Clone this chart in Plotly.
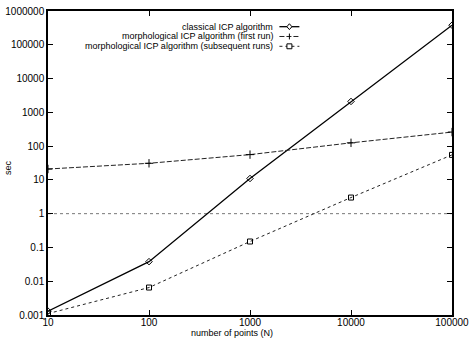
import plotly.graph_objects as go

# Data
n_points = [10, 100, 1000, 10000, 100000]
classical_icp = [0.0013, 0.038, 11, 2100, 380000]
morph_first_run = [21, 31, 56, 125, 260]
morph_subsequent = [0.0011, 0.0065, 0.15, 3.0, 55]
ref_line_x = [10, 100000]
ref_line_y = [1, 1]

series_names = ["classical ICP algorithm",
                "morphological ICP algorithm (first run)",
                "morphological ICP algorithm (subsequent runs)"]

y_tick_vals = [0.001, 0.01, 0.1, 1, 10, 100, 1000, 10000, 100000, 1000000]
y_tick_text = ["0.001", "0.01", "0.1", "1", "10", "100", "1000", "10000", "100000", "1000000"]
x_tick_vals = [10, 100, 1000, 10000, 100000]
x_tick_text = ["10", "100", "1000", "10000", "100000"]

FONT = "Liberation Sans, Arial, sans-serif"
W, H = 474, 341
ML, MR, MT, MB = 48, 21, 5, 26
PW, PH = W - ML - MR, H - MT - MB


def px(x):
    return (x - ML) / PW


def py(y):
    return 1 - (y - MT) / PH


styles = [
    dict(line=dict(color="black", width=1.3), sym="diamond-open", size=5),
    dict(line=dict(color="#222222", width=1, dash="5px,2px"), sym="cross-thin-open", size=6),
    dict(line=dict(color="#222222", width=1, dash="dot"), sym="square-open", size=5),
]
values = [classical_icp, morph_first_run, morph_subsequent]

fig = go.Figure()
fig.add_trace(go.Scatter(
    x=ref_line_x, y=ref_line_y, mode="lines", showlegend=False,
    line=dict(color="#777777", width=1, dash="dot"), hoverinfo="skip"))
for name, vals, st in zip(series_names, values, styles):
    fig.add_trace(go.Scatter(
        x=n_points, y=vals, mode="lines+markers", name=name, showlegend=False,
        line=st["line"],
        marker=dict(symbol=st["sym"], size=st["size"], color="black",
                    line=dict(width=1, color="black"))))

axis_common = dict(
    type="log", showgrid=False, zeroline=False, showline=True, linecolor="black",
    linewidth=1.5, mirror="allticks", ticks="inside", ticklen=5, tickcolor="black",
    tickfont=dict(family=FONT, size=10, color="black"))

fig.update_xaxes(range=[1, 5], tickvals=x_tick_vals, ticktext=x_tick_text,
                 ticklabelstandoff=-3, **axis_common)
fig.update_yaxes(range=[-3, 6], tickvals=y_tick_vals, ticktext=y_tick_text, **axis_common)

# Key in gnuplot style: right-aligned text, sample to the right
row_y = [21, 31, 41]
text_right = 276
s0, s1 = 280, 300
sc = (s0 + s1) / 2
hx, hy = 2.5 / PW, 2.5 / PH
for name, st, ry in zip(series_names, styles, row_y):
    fig.add_annotation(text=name, xref="paper", yref="paper", x=px(text_right), y=py(ry),
                       xanchor="right", yanchor="middle", showarrow=False,
                       font=dict(family=FONT, size=9, color="black"))
    ln = st["line"]
    fig.add_shape(type="line", xref="paper", yref="paper",
                  x0=px(s0), x1=px(s1), y0=py(ry), y1=py(ry),
                  line=dict(color=ln["color"], width=ln["width"], dash=ln.get("dash", "solid")))
    cx, cy = px(sc), py(ry)
    if st["sym"].startswith("diamond"):
        path = f"M {cx-hx},{cy} L {cx},{cy+hy*1.2} L {cx+hx},{cy} L {cx},{cy-hy*1.2} Z"
        fig.add_shape(type="path", xref="paper", yref="paper", path=path,
                      fillcolor="white", line=dict(color="black", width=1))
    elif st["sym"].startswith("square"):
        fig.add_shape(type="rect", xref="paper", yref="paper",
                      x0=cx - hx, x1=cx + hx, y0=cy - hy, y1=cy + hy,
                      fillcolor="white", line=dict(color="black", width=1))
    else:
        fig.add_shape(type="line", xref="paper", yref="paper",
                      x0=cx, x1=cx, y0=cy - hy * 1.2, y1=cy + hy * 1.2,
                      line=dict(color="black", width=1))

fig.add_annotation(text="number of points (N)", xref="paper", yref="paper",
                   x=px(232), y=py(341), xanchor="center", yanchor="bottom", showarrow=False,
                   font=dict(family=FONT, size=9, color="black"))
fig.add_annotation(text="sec", xref="paper", yref="paper", textangle=-90,
                   x=px(8), y=py(165), xanchor="center", yanchor="middle", showarrow=False,
                   font=dict(family=FONT, size=9, color="black"))

fig.update_layout(
    width=W, height=H,
    margin=dict(l=ML, r=MR, t=MT, b=MB),
    paper_bgcolor="white", plot_bgcolor="white",
    font=dict(family=FONT, size=9, color="black"),
    showlegend=False,
)

fig.write_html("out.html")
